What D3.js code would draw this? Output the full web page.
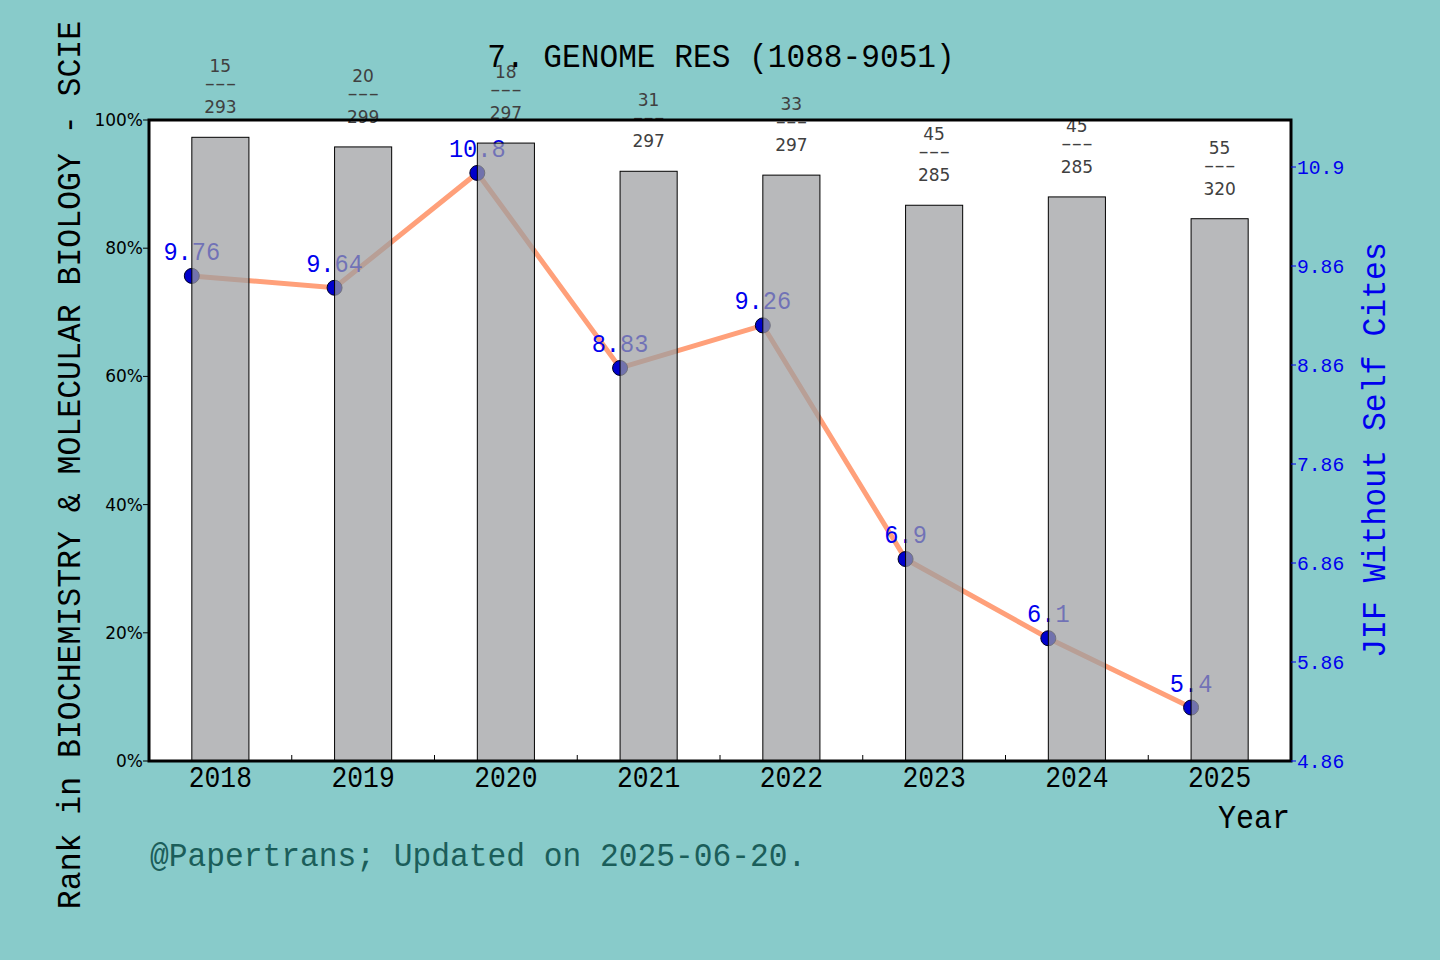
<!DOCTYPE html>
<html>
<head>
<meta charset="utf-8">
<script src="https://cdn.jsdelivr.net/npm/d3@7"></script>
<style>
  html, body { margin: 0; padding: 0; background: #88cbca; }
  svg { display: block; }
</style>
</head>
<body>
<div id="display"></div>
<script>
const years = ['2018', '2019', '2020', '2021', '2022', '2023', '2024', '2025'];
const rankPct = [97.3, 95.8, 96.4, 92.0, 91.4, 86.7, 88.0, 84.6];
const rankNum = [15, 20, 18, 31, 33, 45, 45, 55];
const rankTotal = [293, 299, 297, 297, 297, 285, 285, 320];
const jifNoSelf = [9.76, 9.64, 10.8, 8.83, 9.26, 6.9, 6.1, 5.4];
const jifLabels = ['9.76', '9.64', '10.8', '8.83', '9.26', '6.9', '6.1', '5.4'];
const leftTicks = [0, 20, 40, 60, 80, 100];
const rightTicks = [4.86, 5.86, 6.86, 7.86, 8.86, 9.86, 10.86];
const rightTickLabels = ['4.86', '5.86', '6.86', '7.86', '8.86', '9.86', '10.9'];

const w = 1440, h = 960;
const plot = { left: 149, right: 1291, top: 120, bottom: 761 };
const mono = "'Liberation Mono', 'DejaVu Sans Mono', monospace";
const sans = "'DejaVu Sans', sans-serif";

const viz = d3.select('#display').append('svg')
    .attr('width', w)
    .attr('height', h);

viz.append('rect').attr('width', w).attr('height', h).attr('fill', '#88cbca');
viz.append('rect')
    .attr('x', plot.left).attr('y', plot.top)
    .attr('width', plot.right - plot.left).attr('height', plot.bottom - plot.top)
    .attr('fill', '#ffffff');

const xScale = d3.scaleBand().domain(years).range([plot.left, plot.right]).padding(0);
const barW = xScale.bandwidth() * 0.4;
const cx = (d) => xScale(d) + xScale.bandwidth() / 2;
const yLeft = d3.scaleLinear().domain([0, 100]).range([plot.bottom, plot.top]);
const yRight = d3.scaleLinear().domain([4.86, 4.86 + (plot.bottom - plot.top) / 99]).range([plot.bottom, plot.top]);

// mono text helper: fixed advance per char
const monoText = (g, str, x, y, size, adv, anchor) => g.append('text')
    .attr('x', x).attr('y', y)
    .attr('text-anchor', anchor || 'start')
    .attr('textLength', str.length * adv)
    .attr('lengthAdjust', 'spacingAndGlyphs')
    .style('font-family', mono)
    .style('font-size', size + 'px')
    .text(str);

// line + points (drawn under the bars)
const pts = years.map((y, i) => ({ x: cx(y) - barW / 2, y: yRight(jifNoSelf[i]), label: jifLabels[i] }));
const lineMaker = d3.line().x((d) => d.x).y((d) => d.y);
viz.append('path')
    .attr('d', lineMaker(pts))
    .attr('fill', 'none')
    .attr('stroke', '#ffa07a')
    .attr('stroke-width', 5);

viz.selectAll('.dot').data(pts).enter()
    .append('circle')
    .attr('class', 'dot')
    .attr('cx', (d) => d.x).attr('cy', (d) => d.y)
    .attr('r', 7.5)
    .attr('fill', '#0000cc')
    .attr('stroke', '#000022')
    .attr('stroke-width', 1);

const ptLabels = viz.append('g').attr('fill', '#0000ee');
pts.forEach((d) => {
    monoText(ptLabels, d.label, d.x, d.y - 16, 25, 14.2, 'middle');
});

// bars, semi transparent on top of the line
viz.selectAll('.bar').data(years).enter()
    .append('rect')
    .attr('class', 'bar')
    .attr('x', (d) => cx(d) - barW / 2)
    .attr('y', (d, i) => yLeft(rankPct[i]))
    .attr('width', barW)
    .attr('height', (d, i) => plot.bottom - yLeft(rankPct[i]))
    .attr('fill', 'rgb(157,158,161)')
    .attr('fill-opacity', 0.72)
    .attr('stroke', '#000')
    .attr('stroke-width', 1);

// rank labels above bars
const rankG = viz.append('g').attr('fill', '#404040').style('font-family', sans).style('font-size', '17px');
years.forEach((y, i) => {
    const top = yLeft(rankPct[i]);
    rankG.append('text').attr('x', cx(y)).attr('y', top - 65).attr('text-anchor', 'middle').text(rankNum[i]);
    rankG.append('text').attr('x', cx(y)).attr('y', top - 48).attr('text-anchor', 'middle')
        .attr('textLength', 32).attr('lengthAdjust', 'spacingAndGlyphs').text('---');
    rankG.append('text').attr('x', cx(y)).attr('y', top - 24).attr('text-anchor', 'middle').text(rankTotal[i]);
});

// frame
viz.append('rect')
    .attr('x', plot.left).attr('y', plot.top)
    .attr('width', plot.right - plot.left).attr('height', plot.bottom - plot.top)
    .attr('fill', 'none')
    .attr('stroke', '#000')
    .attr('stroke-width', 3);

// left axis
const leftG = viz.append('g');
leftTicks.forEach((t) => {
    leftG.append('line')
        .attr('x1', plot.left - 6).attr('x2', plot.left)
        .attr('y1', yLeft(t)).attr('y2', yLeft(t))
        .attr('stroke', '#000').attr('stroke-width', 1);
    leftG.append('text')
        .attr('x', plot.left - 6).attr('y', yLeft(t))
        .attr('dy', '0.35em')
        .attr('text-anchor', 'end')
        .style('font-family', sans).style('font-size', '17px')
        .attr('fill', '#000')
        .text(t + '%');
});

// right axis
const rightG = viz.append('g').attr('fill', '#0000ee');
rightTicks.forEach((t, i) => {
    rightG.append('line')
        .attr('x1', plot.right).attr('x2', plot.right + 5)
        .attr('y1', yRight(t)).attr('y2', yRight(t))
        .attr('stroke', '#0000ee').attr('stroke-width', 1);
    monoText(rightG, rightTickLabels[i], plot.right + 6, yRight(t) + 7, 20, 11.8, 'start');
});

// x axis ticks (inward, at band boundaries) + labels
const xG = viz.append('g');
years.forEach((y, i) => {
    if (i > 0) {
        xG.append('line')
            .attr('x1', xScale(y)).attr('x2', xScale(y))
            .attr('y1', plot.bottom).attr('y2', plot.bottom - 6)
            .attr('stroke', '#000').attr('stroke-width', 1);
    }
    monoText(xG, y, cx(y), 787, 29, 15.8, 'middle').attr('fill', '#000');
});

// axis titles
monoText(viz, 'Year', 1290, 828, 33, 18, 'end').attr('fill', '#000');

monoText(viz, 'Rank in BIOCHEMISTRY & MOLECULAR BIOLOGY - SCIE', 0, 0, 33, 18.9, 'middle')
    .attr('transform', 'translate(80,465) rotate(-90)')
    .attr('fill', '#000');

monoText(viz, 'JIF Without Self Cites', 0, 0, 33, 18.9, 'middle')
    .attr('transform', 'translate(1385,450) rotate(-90)')
    .attr('fill', '#0000ee');

// title and footer
monoText(viz, '7. GENOME RES (1088-9051)', 721, 67, 33, 18.7, 'middle').attr('fill', '#000');
monoText(viz, '@Papertrans; Updated on 2025-06-20.', 150, 866, 33, 18.75, 'start').attr('fill', '#1b5e5a');
</script>
</body>
</html>
